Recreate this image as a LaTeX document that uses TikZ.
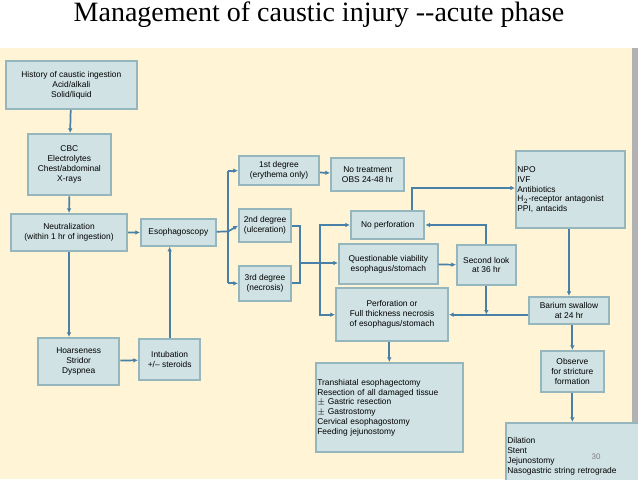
\documentclass[tikz,border=0pt]{standalone}
\usepackage{fontspec}
\setmainfont{Liberation Sans}
\newfontfamily\titlefont{Liberation Serif}
\usetikzlibrary{arrows.meta}
\definecolor{cream}{RGB}{255,244,214}
\definecolor{boxfill}{RGB}{208,226,228}
\definecolor{boxline}{RGB}{150,182,190}
\definecolor{flow}{RGB}{72,128,168}
\tikzset{
  box/.style={draw=boxline, line width=1.5pt, fill=boxfill, inner sep=1pt, anchor=north west,
    font=\fontsize{6.3}{7.4}\selectfont, align=center},
  lbox/.style={box, align=left, text width=#1},
  flow/.style={draw=flow, line width=1.3pt, -{Latex[length=3.5pt,width=3.5pt]}},
  link/.style={draw=flow, line width=1.3pt}
}
\begin{document}
\begin{tikzpicture}[x=0.75pt,y=0.75pt,yscale=-1,xscale=1]
        \useasboundingbox (0,0) rectangle (638,479);
        % background
        \fill[white] (0,0) rectangle (638,48);
        \fill[cream] (0,48) rectangle (638,479);
        \fill[gray!60] (632,48) rectangle (638,479);
        % title
        \node (title) at (319,15) {\titlefont\fontsize{21}{24}\selectfont Management of caustic injury --acute phase};
        
        % left column
        \node[box, minimum width=98pt, minimum height=36pt] (hist) at (5,60) {History of caustic ingestion\\Acid/alkali\\Solid/liquid};
        \node[box, minimum width=62pt, minimum height=46pt] (cbc) at (27,133) {CBC\\Electrolytes\\Chest/abdominal\\X-rays};
        \node[box, minimum width=87pt, minimum height=28pt] (neut) at (10,213) {Neutralization\\(within 1 hr of ingestion)};
        \node[box, minimum width=56pt, minimum height=20pt] (eso) at (140,218) {Esophagoscopy};
        \node[box, minimum width=61pt, minimum height=35pt] (hoarse) at (37,337) {Hoarseness\\Stridor\\Dyspnea};
        \node[box, minimum width=46pt, minimum height=31pt] (intub) at (138,338) {Intubation\\+/-- steroids};
        
        % degrees
        \node[box, minimum width=60pt, minimum height=22pt] (first) at (238,155) {1st degree\\(erythema only)};
        \node[box, minimum width=39pt, minimum height=25pt] (second) at (238,208) {2nd degree\\(ulceration)};
        \node[box, minimum width=39pt, minimum height=26pt] (third) at (238,265) {3rd degree\\(necrosis)};
        \node[box, minimum width=55pt, minimum height=25pt] (notreat) at (330,157) {No treatment\\OBS 24-48 hr};
        
        % middle
        \node[box, minimum width=55pt, minimum height=21pt] (nopert) at (350,210) {No perforation};
        \node[box, minimum width=74pt, minimum height=30pt] (quest) at (338,243) {Questionable viability\\esophagus/stomach};
        \node[box, minimum width=84pt, minimum height=40pt] (perf) at (335,287) {Perforation or\\Full thickness necrosis\\of esophagus/stomach};
        \node[box, minimum width=44pt, minimum height=30pt] (look) at (456,244) {Second look\\at 36 hr};
        \node[lbox=108pt, minimum height=67pt] (trans) at (315,362) {Transhiatal esophagectomy\\Resection of all damaged tissue\\$\pm$ Gastric resection\\$\pm$ Gastrostomy\\Cervical esophagostomy\\Feeding jejunostomy};
        
        % right
        \node[lbox=80pt, minimum height=58pt] (npo) at (515,150) {NPO\\IVF\\Antibiotics\\H$_2$-receptor antagonist\\PPI, antacids};
        \node[box, minimum width=60pt, minimum height=20pt] (barium) at (528,296) {Barium swallow\\at 24 hr};
        \node[box, minimum width=47pt, minimum height=31pt] (observe) at (540,350) {Observe\\for stricture\\formation};
        \node[lbox=101pt, minimum height=50pt] (dil) at (505,422) {Dilation\\Stent\\Jejunostomy\\Nasogastric string retrograde};
        \node[font=\fontsize{6}{7}\selectfont, text=gray] (page) at (596,457) {30};
        
        % connectors
        \draw[flow] (hist) -- (cbc);
        \draw[flow] (cbc) -- (neut);
        \draw[flow] (neut) -- (eso);
        \draw[flow] (neut) -- (neut |- hoarse.north);
        \draw[flow] (hoarse) -- (intub);
        \draw[flow] (intub) -- (intub |- eso.south);
        \coordinate (split) at (228,231.5);
        \draw[link] (eso) -- (split);
        \draw[flow] (split |- first.west) -- (first.west);
        \draw[flow] (split) -- (second.west);
        \draw[flow] (split |- third.west) -- (third.west);
        \draw[link] (split |- first.west) -- (split |- third.west);
        \draw[flow] (first) -- (notreat);
        \coordinate (join) at (300,263);
        \draw[link] (second.east) -| (join) (third.east) -| (join);
        \draw[flow] (join) -- (quest.west |- join);
        \coordinate (bus) at (320,263);
        \draw[flow] (bus) |- (nopert.west);
        \draw[flow] (bus) |- (perf.west);
        \draw[flow] (nopert.north -| 412,0) |- (npo.west |- 0,188);
        \draw[flow] (quest) -- (look);
        \draw[flow] (look.north) |- (nopert.east);
        \draw[flow] (look.south) -- (look.south |- perf.west);
        \draw[flow] (barium.west |- perf.west) -- (perf.east);
        \draw[flow] (npo.south -| barium.north) -- (barium.north);
        \draw[flow] (barium.south -| observe.north) -- (observe.north);
        \draw[flow] (observe) -- (observe |- dil.north);
        \draw[flow] (perf.south -| trans.north) -- (trans.north);
\end{tikzpicture}
\end{document}
